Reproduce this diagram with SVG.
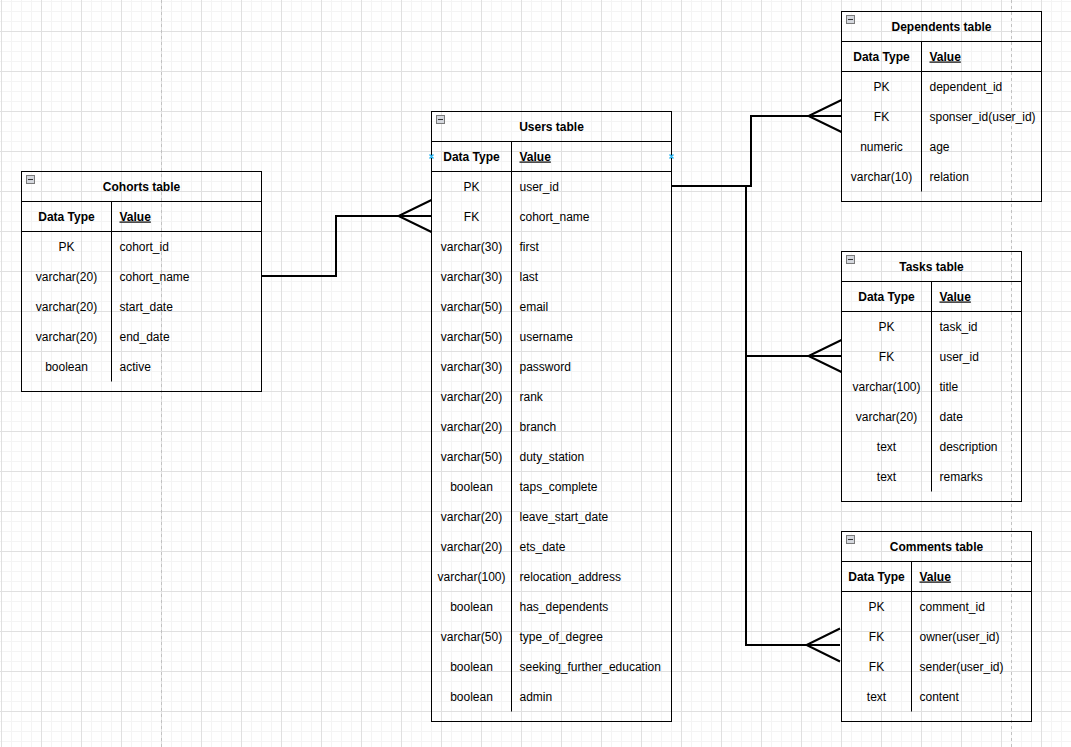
<svg xmlns="http://www.w3.org/2000/svg" width="1071" height="747" viewBox="0 0 1071 747">
<defs>
<pattern id="grid" patternUnits="userSpaceOnUse" x="1" y="31" width="40" height="40">
<rect x="10" y="0" width="1" height="40" fill="#f4f4f4"/>
<rect x="20" y="0" width="1" height="40" fill="#f4f4f4"/>
<rect x="30" y="0" width="1" height="40" fill="#f4f4f4"/>
<rect x="0" y="10" width="40" height="1" fill="#f4f4f4"/>
<rect x="0" y="20" width="40" height="1" fill="#f4f4f4"/>
<rect x="0" y="30" width="40" height="1" fill="#f4f4f4"/>
<rect x="0" y="0" width="1" height="40" fill="#e0e0e0"/>
<rect x="0" y="0" width="40" height="1" fill="#e0e0e0"/>
</pattern>
</defs>
<style>
text{font-family:"Liberation Sans",Arial,Helvetica,sans-serif;font-size:12px;fill:#000}
.t{font-weight:bold;text-anchor:middle}
.h{font-weight:bold;text-anchor:middle}
.v{font-weight:bold;text-decoration:underline}
.c{text-anchor:middle}
.box{fill:none;stroke:#000;stroke-width:1}
.ln{stroke:#000;stroke-width:1;fill:none}
.icon{fill:#d4d7dd;stroke:#7a7a7a;stroke-width:1}
.dash{stroke:#333;stroke-width:1}
.conn{fill:none;stroke:#000;stroke-width:2}
.pb{stroke:#c2c2c2;stroke-width:1;stroke-dasharray:3 3}
.mk{stroke:#29b6f2;stroke-width:1.5;fill:none}
</style>
<rect width="1071" height="747" fill="#fff"/>
<rect width="1071" height="747" fill="url(#grid)"/>
<line class="pb" x1="161.5" y1="0" x2="161.5" y2="747"/>
<line class="pb" x1="1011.5" y1="0" x2="1011.5" y2="747"/>

<g id="connectors">
<path class="conn" d="M261.5,276 H336 V216 H431.5"/>
<path class="conn" d="M431.5,200 L398.5,216 L431.5,232"/>
<path class="conn" d="M671.5,186 H751 V116 H841.5"/>
<path class="conn" d="M841.5,100 L808.5,116 L841.5,132"/>
<path class="conn" d="M746,186 V356 H841.5"/>
<path class="conn" d="M841.5,340 L808.5,356 L841.5,372"/>
<path class="conn" d="M746,356 V645 H840"/>
<path class="conn" d="M840,628.5 L806.5,645 L840,661.5"/>
</g>

<g id="cohorts">
<rect class="box" x="21.5" y="171.5" width="240" height="220"/>
<line class="ln" x1="21.5" y1="201.5" x2="261.5" y2="201.5"/>
<line class="ln" x1="21.5" y1="231.5" x2="261.5" y2="231.5"/>
<line class="ln" x1="111.5" y1="201.5" x2="111.5" y2="381.5"/>
<rect class="icon" x="26.5" y="175.5" width="8" height="8"/>
<line class="dash" x1="28" y1="179.5" x2="33" y2="179.5"/>
<text class="t" x="141.5" y="190.5">Cohorts table</text>
<text class="h" x="66.5" y="220.5">Data Type</text>
<text class="v" x="119.5" y="220.5">Value</text>
<text class="c" x="66.5" y="250.5">PK</text><text x="119.5" y="250.5">cohort_id</text>
<text class="c" x="66.5" y="280.5">varchar(20)</text><text x="119.5" y="280.5">cohort_name</text>
<text class="c" x="66.5" y="310.5">varchar(20)</text><text x="119.5" y="310.5">start_date</text>
<text class="c" x="66.5" y="340.5">varchar(20)</text><text x="119.5" y="340.5">end_date</text>
<text class="c" x="66.5" y="370.5">boolean</text><text x="119.5" y="370.5">active</text>
</g>

<g id="users">
<rect class="box" x="431.5" y="111.5" width="240" height="610"/>
<line class="ln" x1="431.5" y1="141.5" x2="671.5" y2="141.5"/>
<line class="ln" x1="431.5" y1="171.5" x2="671.5" y2="171.5"/>
<line class="ln" x1="511.5" y1="141.5" x2="511.5" y2="711.5"/>
<rect class="icon" x="436.5" y="115.5" width="8" height="8"/>
<line class="dash" x1="438" y1="119.5" x2="443" y2="119.5"/>
<path class="mk" d="M429.5,154.5 L433.5,158.5 M433.5,154.5 L429.5,158.5 M669.5,154.5 L673.5,158.5 M673.5,154.5 L669.5,158.5"/>
<text class="t" x="551.5" y="130.5">Users table</text>
<text class="h" x="471.5" y="160.5">Data Type</text>
<text class="v" x="519.5" y="160.5">Value</text>
<text class="c" x="471.5" y="190.5">PK</text><text x="519.5" y="190.5">user_id</text>
<text class="c" x="471.5" y="220.5">FK</text><text x="519.5" y="220.5">cohort_name</text>
<text class="c" x="471.5" y="250.5">varchar(30)</text><text x="519.5" y="250.5">first</text>
<text class="c" x="471.5" y="280.5">varchar(30)</text><text x="519.5" y="280.5">last</text>
<text class="c" x="471.5" y="310.5">varchar(50)</text><text x="519.5" y="310.5">email</text>
<text class="c" x="471.5" y="340.5">varchar(50)</text><text x="519.5" y="340.5">username</text>
<text class="c" x="471.5" y="370.5">varchar(30)</text><text x="519.5" y="370.5">password</text>
<text class="c" x="471.5" y="400.5">varchar(20)</text><text x="519.5" y="400.5">rank</text>
<text class="c" x="471.5" y="430.5">varchar(20)</text><text x="519.5" y="430.5">branch</text>
<text class="c" x="471.5" y="460.5">varchar(50)</text><text x="519.5" y="460.5">duty_station</text>
<text class="c" x="471.5" y="490.5">boolean</text><text x="519.5" y="490.5">taps_complete</text>
<text class="c" x="471.5" y="520.5">varchar(20)</text><text x="519.5" y="520.5">leave_start_date</text>
<text class="c" x="471.5" y="550.5">varchar(20)</text><text x="519.5" y="550.5">ets_date</text>
<text class="c" x="471.5" y="580.5">varchar(100)</text><text x="519.5" y="580.5">relocation_address</text>
<text class="c" x="471.5" y="610.5">boolean</text><text x="519.5" y="610.5">has_dependents</text>
<text class="c" x="471.5" y="640.5">varchar(50)</text><text x="519.5" y="640.5">type_of_degree</text>
<text class="c" x="471.5" y="670.5">boolean</text><text x="519.5" y="670.5">seeking_further_education</text>
<text class="c" x="471.5" y="700.5">boolean</text><text x="519.5" y="700.5">admin</text>
</g>

<g id="dependents">
<rect class="box" x="841.5" y="11.5" width="200" height="190"/>
<line class="ln" x1="841.5" y1="41.5" x2="1041.5" y2="41.5"/>
<line class="ln" x1="841.5" y1="71.5" x2="1041.5" y2="71.5"/>
<line class="ln" x1="921.5" y1="41.5" x2="921.5" y2="191.5"/>
<rect class="icon" x="846.5" y="15.5" width="8" height="8"/>
<line class="dash" x1="848" y1="19.5" x2="853" y2="19.5"/>
<text class="t" x="941.5" y="30.5">Dependents table</text>
<text class="h" x="881.5" y="60.5">Data Type</text>
<text class="v" x="929.5" y="60.5">Value</text>
<text class="c" x="881.5" y="90.5">PK</text><text x="929.5" y="90.5">dependent_id</text>
<text class="c" x="881.5" y="120.5">FK</text><text x="929.5" y="120.5">sponser_id(user_id)</text>
<text class="c" x="881.5" y="150.5">numeric</text><text x="929.5" y="150.5">age</text>
<text class="c" x="881.5" y="180.5">varchar(10)</text><text x="929.5" y="180.5">relation</text>
</g>

<g id="tasks">
<rect class="box" x="841.5" y="251.5" width="180" height="250"/>
<line class="ln" x1="841.5" y1="281.5" x2="1021.5" y2="281.5"/>
<line class="ln" x1="841.5" y1="311.5" x2="1021.5" y2="311.5"/>
<line class="ln" x1="931.5" y1="281.5" x2="931.5" y2="491.5"/>
<rect class="icon" x="846.5" y="255.5" width="8" height="8"/>
<line class="dash" x1="848" y1="259.5" x2="853" y2="259.5"/>
<text class="t" x="931.5" y="270.5">Tasks table</text>
<text class="h" x="886.5" y="300.5">Data Type</text>
<text class="v" x="939.5" y="300.5">Value</text>
<text class="c" x="886.5" y="330.5">PK</text><text x="939.5" y="330.5">task_id</text>
<text class="c" x="886.5" y="360.5">FK</text><text x="939.5" y="360.5">user_id</text>
<text class="c" x="886.5" y="390.5">varchar(100)</text><text x="939.5" y="390.5">title</text>
<text class="c" x="886.5" y="420.5">varchar(20)</text><text x="939.5" y="420.5">date</text>
<text class="c" x="886.5" y="450.5">text</text><text x="939.5" y="450.5">description</text>
<text class="c" x="886.5" y="480.5">text</text><text x="939.5" y="480.5">remarks</text>
</g>

<g id="comments">
<rect class="box" x="841.5" y="531.5" width="190" height="190"/>
<line class="ln" x1="841.5" y1="561.5" x2="1031.5" y2="561.5"/>
<line class="ln" x1="841.5" y1="591.5" x2="1031.5" y2="591.5"/>
<line class="ln" x1="911.5" y1="561.5" x2="911.5" y2="711.5"/>
<rect class="icon" x="846.5" y="535.5" width="8" height="8"/>
<line class="dash" x1="848" y1="539.5" x2="853" y2="539.5"/>
<text class="t" x="936.5" y="550.5">Comments table</text>
<text class="h" x="876.5" y="580.5">Data Type</text>
<text class="v" x="919.5" y="580.5">Value</text>
<text class="c" x="876.5" y="610.5">PK</text><text x="919.5" y="610.5">comment_id</text>
<text class="c" x="876.5" y="640.5">FK</text><text x="919.5" y="640.5">owner(user_id)</text>
<text class="c" x="876.5" y="670.5">FK</text><text x="919.5" y="670.5">sender(user_id)</text>
<text class="c" x="876.5" y="700.5">text</text><text x="919.5" y="700.5">content</text>
</g>
</svg>
